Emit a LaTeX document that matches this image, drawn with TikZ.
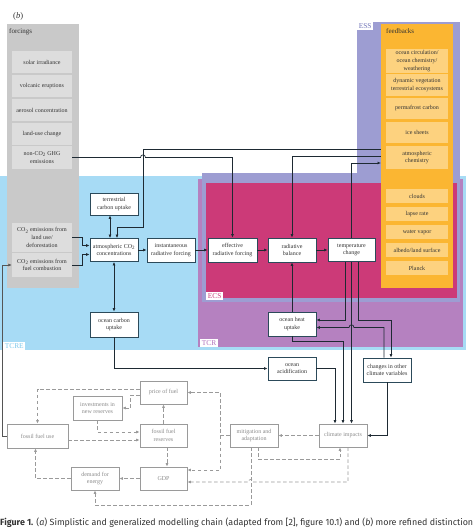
\documentclass[tikz,border=0pt]{standalone}
\usepackage{fontspec}
\usepackage{graphicx}
\setmainfont{Liberation Serif}
\newfontfamily\capfont{Fira Sans}
\usetikzlibrary{arrows.meta,calc}
\definecolor{tcre}{HTML}{A7DBF5}
\definecolor{tcr}{HTML}{B581C0}
\definecolor{ess}{HTML}{9D9DD2}
\definecolor{ecs}{HTML}{CC3A78}
\definecolor{fbk}{HTML}{FBB632}
\definecolor{fbin}{HTML}{FDD27F}
\definecolor{forc}{HTML}{C9C9C9}
\definecolor{forcin}{HTML}{DDDDDD}
\definecolor{boxcol}{HTML}{2C4A5A}
\definecolor{conncol}{HTML}{1E2A33}
\definecolor{econcol}{HTML}{9A9A9A}
\definecolor{econtxt}{HTML}{8C8C8C}
\definecolor{txtcol}{HTML}{333333}
\definecolor{ecstxt}{HTML}{C8407A}
\definecolor{tcrtxt}{HTML}{B070BC}
\definecolor{tcretxt}{HTML}{7CC8EC}
\definecolor{esstxt}{HTML}{6F73B8}
\definecolor{leftline}{HTML}{555555}
\begin{document}
\begin{tikzpicture}[x=1pt,y=-1pt,
  >={Latex[length=3.5pt,width=3pt]},
  conn/.style={draw=conncol, line width=0.7pt, ->},
  dconn/.style={draw=econcol, line width=0.7pt, dash pattern=on 3.5pt off 2.5pt, ->},
  sz/.style 2 args={minimum width=#1pt, minimum height=#2pt},
  boxfont/.style={font=\fontsize{6}{7.6}\selectfont},
  mainbox/.style={draw=boxcol, line width=0.8pt, fill=white, inner sep=0pt, align=center, text=txtcol, boxfont},
  econbox/.style={draw=econcol, line width=0.7pt, fill=white, inner sep=0pt, align=center, text=econtxt, boxfont},
  forcbox/.style={fill=forcin, inner sep=0pt, align=center, text=txtcol, boxfont},
  fbbox/.style={fill=fbin, inner sep=0pt, align=center, text=txtcol, boxfont},
  reglabel/.style={fill=white, inner sep=1.6pt, font=\fontsize{7.4}{8}\selectfont},
  paneltitle/.style={anchor=north west, inner sep=0pt, text=txtcol, font=\fontsize{7}{8}\selectfont}
]
\useasboundingbox (0,0) rectangle (474,529);
\fill[white] (0,0) rectangle (474,529);
% regions
\fill[tcre] (0,176) rectangle (466,350);
\fill[tcr] (198,179) rectangle (463,347);
\fill[ess] (202,173) rectangle (460,302);
\fill[ess] (357,22) rectangle (460,180);
\fill[ecs] (206,183) rectangle (457,298);
\fill[forc] (7,24) rectangle (79,288);
\fill[fbk] (381,24) rectangle (453,288);
% region labels
\node[reglabel, text=esstxt, anchor=north west] (esslab) at (357,22) {ESS};
\node[reglabel, text=ecstxt, anchor=south west] (ecslab) at (206,300) {ECS};
\node[reglabel, text=tcrtxt, anchor=south west] (tcrlab) at (200,347.5) {TCR};
\node[reglabel, text=tcretxt, anchor=south west] (tcrelab) at (3,350) {TCRE};
\node[paneltitle] (forclab) at (9,28) {forcings};
\node[paneltitle] (fblab) at (386,28) {feedbacks};
\node[anchor=base west, inner sep=0pt, text=txtcol, font=\fontsize{8.5}{9}\selectfont] (blabel) at (13,19) {(\textit{b})};
% forcings
\node[forcbox, sz={60}{22}] (solar) at (42,62) {solar irradiance};
\node[forcbox, sz={60}{22}] (volc) at (42,86) {volcanic eruptions};
\node[forcbox, sz={60}{22}] (aero) at (42,110) {aerosol concentration};
\node[forcbox, sz={60}{22}] (luc) at (42,134) {land-use change};
\node[forcbox, sz={60}{23}] (nonco2) at (42,157.5) {non-CO\textsubscript{2} GHG\\emissions};
\node[forcbox, sz={60}{29}] (co2lu) at (42,237.5) {CO\textsubscript{2} emissions from\\land use/\\deforestation};
\node[forcbox, sz={60}{24}] (co2fuel) at (42,265) {CO\textsubscript{2} emissions from\\fuel combustion};
% feedbacks
\node[fbbox, sz={62}{24}] (ocirc) at (417,61) {ocean circulation/\\ocean chemistry/\\weathering};
\node[fbbox, sz={62}{22}] (dynveg) at (417,85) {dynamic vegetation\\terrestrial ecosystems};
\node[fbbox, sz={62}{21}] (perma) at (417,108.5) {permafrost carbon};
\node[fbbox, sz={62}{21}] (ice) at (417,132.5) {ice sheets};
\node[fbbox, sz={62}{23}] (atmchem) at (417,157.5) {atmospheric\\chemistry};
\node[fbbox, sz={62}{14}] (clouds) at (417,196) {clouds};
\node[fbbox, sz={62}{14}] (lapse) at (417,214) {lapse rate};
\node[fbbox, sz={62}{14}] (wvap) at (417,232) {water vapor};
\node[fbbox, sz={62}{14}] (albedo) at (417,250) {albedo/land surface};
\node[fbbox, sz={62}{14}] (planck) at (417,268) {Planck};
% main chain
\node[mainbox, sz={48}{22}] (terr) at (114,204) {terrestrial\\carbon uptake};
\node[mainbox, sz={48}{23}] (atmco2) at (114,250) {atmospheric CO\textsubscript{2}\\concentrations};
\node[mainbox, sz={48}{25}] (ocarb) at (114,324.5) {ocean carbon\\uptake};
\node[mainbox, sz={48}{24}] (irf) at (171,250) {instantaneous\\radiative forcing};
\node[mainbox, sz={49}{24}] (erf) at (232.5,250) {effective\\radiative forcing};
\node[mainbox, sz={48}{24}] (radbal) at (292,250) {radiative\\balance};
\node[mainbox, sz={47}{23}] (tc) at (351.5,250) {temperature\\change};
\node[mainbox, sz={48}{24}] (ohu) at (292,324) {ocean heat\\uptake};
\node[mainbox, sz={48}{23}] (oacid) at (292,368.5) {ocean\\acidification};
\node[mainbox, sz={48}{24}] (changes) at (387,370) {changes in other\\climate variables};
% economy
\node[econbox, sz={61}{24}] (ffu) at (37.5,436) {fossil fuel use};
\node[econbox, sz={47}{23}] (price) at (163.5,392.5) {price of fuel};
\node[econbox, sz={49}{24}] (inv) at (97.5,408) {investments in\\new reserves};
\node[econbox, sz={47}{23}] (res) at (163.5,435.5) {fossil fuel\\reserves};
\node[econbox, sz={47}{23}] (gdp) at (163.5,478.5) {GDP};
\node[econbox, sz={48}{23}] (demand) at (95,478.5) {demand for\\energy};
\node[econbox, sz={48}{23}] (mit) at (254,435.5) {mitigation and\\adaptation};
\node[econbox, sz={48}{23}] (ci) at (343,435.5) {climate impacts};
% feedback-panel end points
\coordinate (fb1) at (381,149);
\coordinate (fb2) at (381,156);
\coordinate (fb3) at (381,163);
\coordinate (lowrow) at (0,505);
% solid connectors
\draw[conn] (nonco2.east) -- (140.5,157.5) .. controls (140.5,154) and (145.5,154) .. (145.5,157.5) -| (erf.north);
\draw[conn] (fb1) -- (143,149) -- (143,227) -| ([xshift=3pt]atmco2.north);
\draw[conn] (fb2) -| (radbal.north);
\draw[conn] (tc.north) |- (fb3);
\draw[conn] (co2lu.east) -- (82,237.5) |- ([yshift=4.5pt]atmco2.west);
\draw[conn] (co2fuel.east) -- (82,265) |- ([yshift=-4.5pt]atmco2.west);
\draw[conn,<->] ([xshift=-4pt]terr.south) -- ([xshift=-4pt]atmco2.north);
\draw[conn] (atmco2.east) -- (irf.west);
\draw[conn] (irf.east) -- (erf.west);
\draw[conn] (erf.east) -- (radbal.west);
\draw[conn] (radbal.east) -- (tc.west);
\draw[conn,<->] (atmco2.south) -- (ocarb.north);
\draw[conn] (ocarb.south) |- (oacid.west);
\draw[conn] (ohu.north) -- (radbal.south);
\draw[conn] (oacid.east) -| ([xshift=-8pt]ci.north);
\draw[conn] (ohu.south) -- ++(0,5) -| (ci.north);
\draw[conn] (tc.south) -- (tc.south |- ci.north);
\draw[conn] ([xshift=-6.5pt]tc.south) |- ([yshift=4pt]ohu.east);
\draw[conn] ([xshift=7pt]tc.south) |- (391,320) -- ([xshift=4pt]changes.north);
\draw[conn] ([xshift=-3pt]changes.north) -- (384,327.5) -- (354,327.5) .. controls (354,324) and (349,324) .. (349,327.5) -- ([yshift=-3.5pt]ohu.east);
\draw[conn] (changes.south) |- (ci.east);
\draw[conn, draw=leftline] (ffu.west) -- ++(-4,0) |- (co2fuel.west);
% dashed connectors
\draw[dconn] ([yshift=3.5pt]price.west) -| (ffu.north);
\draw[dconn] ([yshift=-2.5pt]price.west) -- ++(-9,0) |- (inv.east);
\draw[dconn] (inv.south) |- ([yshift=3.5pt]res.west);
\draw[dconn] ([yshift=-4pt]ffu.east) -- ([yshift=-4pt]ffu.east -| res.west);
\draw[dconn] (res.north) -- (price.south);
\draw[dconn] ([xshift=3.5pt]res.south) -- ([xshift=3.5pt]gdp.north);
\draw[dconn] (gdp.west) -- (demand.east);
\draw[dconn] (demand.west) -| ([xshift=-2pt]ffu.south);
\draw[dconn] (mit.west) -- ++(-9,0) coordinate (mj) |- (price.east);
\draw[dconn] (mj) |- ([yshift=8.5pt]gdp.east);
\draw[dconn] ([xshift=5pt]ci.south) -- (348,482) -- (253.5,482) .. controls (253.5,478.5) and (248.5,478.5) .. (248.5,482) -- ([yshift=-3.5pt]gdp.east);
\draw[dconn] ([xshift=-3pt]mit.south) |- (lowrow -| demand.south) -- (demand.south);
\draw[dconn] ([xshift=4pt]mit.south) -- ++(0,12) -| ([xshift=-3pt]ci.south);
\draw[dconn] (ci.west) -- (mit.east);
% caption
\node[anchor=base west, inner sep=0pt, text=txtcol] (caption) at (0,525) {\resizebox{473pt}{7.6pt}{\capfont\textbf{Figure 1.} (\textit{a}) Simplistic and generalized modelling chain (adapted from [2], figure 10.1) and (\textit{b}) more refined distinction}};
\end{tikzpicture}
\end{document}
